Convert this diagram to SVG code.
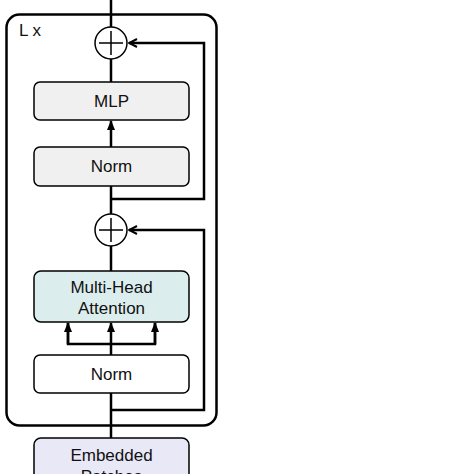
<svg xmlns="http://www.w3.org/2000/svg" width="474" height="474" viewBox="0 0 474 474">
<defs>
<marker id="fa" viewBox="0 0 10 10" refX="9" refY="5" markerWidth="4" markerHeight="4" orient="auto" markerUnits="strokeWidth"><path d="M0,1 L10,5 L0,9 Z" fill="#000"/></marker>
<marker id="oa" viewBox="0 0 10 10" refX="9" refY="5" markerWidth="4" markerHeight="4" orient="auto" markerUnits="strokeWidth"><path d="M1,1 L9,5 L1,9" fill="none" stroke="#000" stroke-width="2"/></marker>
</defs>
<style>
.box{stroke:#000;stroke-width:1.5}
.t{font-family:"Liberation Sans",Arial,sans-serif;font-size:17px;fill:#111;text-anchor:middle}
.ln{fill:none;stroke:#000;stroke-width:2.5}
</style>
<rect width="474" height="474" fill="#fff"/>
<g id="layer">
<rect x="6.5" y="14.5" width="210" height="411" rx="13" fill="none" stroke="#000" stroke-width="2.5"/>
<text x="19" y="36" class="t" style="text-anchor:start">L x</text>
</g>
<g id="connectors">
<line class="ln" x1="111" y1="0" x2="111" y2="27"/>
<line class="ln" x1="111" y1="59" x2="111" y2="82"/>
<line class="ln" x1="111" y1="147" x2="111" y2="121" marker-end="url(#fa)"/>
<line class="ln" x1="111" y1="186" x2="111" y2="214"/>
<line class="ln" x1="111" y1="246" x2="111" y2="271"/>
<polyline class="ln" points="111,199 204,199 204,43 129,43" marker-end="url(#oa)"/>
<polyline class="ln" points="111,410 204,410 204,230 129,230" marker-end="url(#oa)"/>
<line class="ln" x1="111" y1="355" x2="111" y2="323" marker-end="url(#fa)"/>
<polyline class="ln" points="68,323 68,344 155,344 155,323"/>
<line class="ln" x1="68" y1="344" x2="68" y2="323" marker-end="url(#fa)"/>
<line class="ln" x1="155" y1="344" x2="155" y2="323" marker-end="url(#fa)"/>
<line class="ln" x1="111" y1="393" x2="111" y2="438"/>
</g>
<g id="add1">
<circle cx="111" cy="43" r="16" fill="#fff" stroke="#000" stroke-width="1.5"/>
<path d="M99,43 H123 M111,31 V55" stroke="#000" stroke-width="1.5"/>
</g>
<g id="mlp">
<rect class="box" x="34" y="82" width="155" height="38" rx="6" fill="#f0f0f0"/>
<text class="t" x="111.5" y="107">MLP</text>
</g>
<g id="norm1">
<rect class="box" x="34" y="147" width="155" height="39" rx="6" fill="#f0f0f0"/>
<text class="t" x="111.5" y="172">Norm</text>
</g>
<g id="add2">
<circle cx="111" cy="230" r="16" fill="#fff" stroke="#000" stroke-width="1.5"/>
<path d="M99,230 H123 M111,218 V242" stroke="#000" stroke-width="1.5"/>
</g>
<g id="mha">
<rect class="box" x="34" y="271" width="155" height="51" rx="7" fill="#dcedee"/>
<text class="t" x="111.5" y="293">Multi-Head</text>
<text class="t" x="111.5" y="314">Attention</text>
</g>
<g id="norm2">
<rect class="box" x="34" y="355" width="155" height="38" rx="6" fill="#fff"/>
<text class="t" x="111.5" y="380">Norm</text>
</g>
<g id="embed">
<rect class="box" x="34" y="438" width="155" height="52" rx="7" fill="#e8e8f7"/>
<text class="t" x="111.5" y="461">Embedded</text>
<text class="t" x="111.5" y="482">Patches</text>
</g>
</svg>
